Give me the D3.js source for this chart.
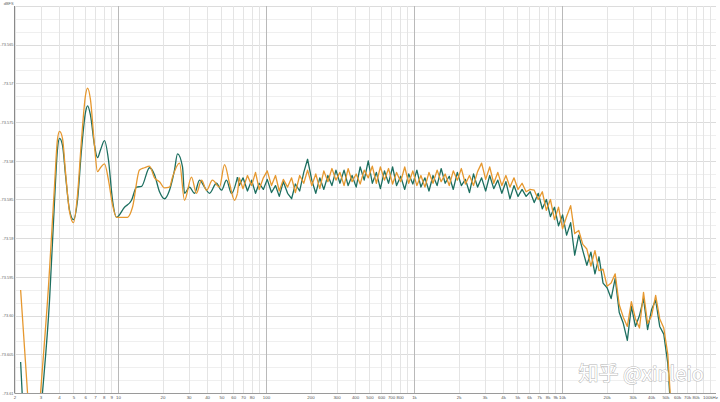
<!DOCTYPE html>
<html><head><meta charset="utf-8">
<script src="https://cdn.jsdelivr.net/npm/d3@7"></script>
<style>body{margin:0;background:#fff}svg{display:block}</style>
</head><body><svg id="c" width="720" height="402"></svg>
<script>
// ---------- data ----------
const xTickValues=[2,3,4,5,6,7,8,9,10,20,30,40,50,60,70,80,100,200,300,400,500,600,700,800,1000,2000,3000,4000,5000,6000,7000,8000,9000,10000,20000,30000,40000,50000,60000,70000,80000,100000];
const xTickLabels=["2","3","4","5","6","7","8","9","10","20","30","40","50","60","70","80","100","200","300","400","500","600","700","800","1k","2k","3k","4k","5k","6k","7k","8k","9k","10k","20k","30k","40k","50k","60k","70k","80k","100kHz"];
const yTickValues=[-73.565,-73.57,-73.575,-73.58,-73.585,-73.59,-73.595,-73.60,-73.605,-73.61];
const yTickLabels=["-73.565","-73.57","-73.575","-73.58","-73.585","-73.59","-73.595","-73.60","-73.605","-73.61"];
const yUnit="dBFS";

// low-frequency part, teal series
const tealLowFreq=[2.2,2.6,3.09,3.45,3.73,3.90,4.03,4.22,4.42,4.71,5.01,5.33,5.67,6.04,6.23,6.52,6.94,7.27,7.62,8.11,8.63,9.19,9.78,11.07,12.35,13.35,14.43,16.34,17.66,19.09,20.63,22.30,24.10,25.26,27.30,28.17,30.44,32.9,35.57,38.44,41.55,46.3,50.07,54.1,58.5,64.2];
const tealLowDb=[-73.6060,-73.6250,-73.6100,-73.5980,-73.5851,-73.5786,-73.5771,-73.5780,-73.5818,-73.5864,-73.5876,-73.5851,-73.5786,-73.5737,-73.5729,-73.5741,-73.5780,-73.5796,-73.5786,-73.5774,-73.5799,-73.5851,-73.5873,-73.5860,-73.5851,-73.5834,-73.5833,-73.5809,-73.5818,-73.5840,-73.5849,-73.5838,-73.5812,-73.5791,-73.5808,-73.5842,-73.5834,-73.5842,-73.5825,-73.5834,-73.5842,-73.5829,-73.5838,-73.5825,-73.5842,-73.5821];
// low-frequency part, orange series
const orangeLowFreq=[2.2,2.45,2.7,3.0,3.40,3.73,3.90,4.03,4.22,4.42,4.71,5.01,5.33,5.67,6.04,6.23,6.52,6.94,7.27,7.62,8.11,8.63,9.19,9.78,11.6,12.54,13.98,15.11,16.34,17.66,19.09,20.63,22.30,23.37,26.06,28.17,31.4,33.9,36.7,39.7,43.5,48.5,52.5,56.7,61.3,64.2];
const orangeLowDb=[-73.5967,-73.6100,-73.6220,-73.6100,-73.5960,-73.5831,-73.5773,-73.5762,-73.5771,-73.5814,-73.5866,-73.5880,-73.5844,-73.5773,-73.5715,-73.5706,-73.5721,-73.5780,-73.5814,-73.5809,-73.5804,-73.5825,-73.5857,-73.5873,-73.5873,-73.5860,-73.5812,-73.5809,-73.5807,-73.5822,-73.5827,-73.5835,-73.5834,-73.5821,-73.5803,-73.5851,-73.5821,-73.5842,-73.5825,-73.5838,-73.5825,-73.5834,-73.5805,-73.5829,-73.5851,-73.5842];

// upper band, shared frequencies
const hiFreq=[66,70,75,80,85,90,96,102,109,116,123,131,140,149,158,169,180,191,204,217,231,246,262,279,297,316,337,359,382,407,433,461,491,523,557,593,632,673,717,763,813,866,922,982,1046,1114,1186,1263,1345,1433,1526,1625,1731,1843,1963,2090,2226,2371,2525,2689,2864,3050,3248,3459,3684,3923,4178,4450,4739,5047,5375,5724,6096,6493,6915,7364,7843,8353,8896,9474,10090,10746,11444,12188,12980,13824,14722,15679,16698,17784,18940,20171,21482,22878,24365,25949,27636,29432,31345,33383,35552,37863,40324,42945,45737,48710,51876,55000];
const tealHiDb=[-73.5832,-73.5822,-73.5839,-73.5825,-73.5842,-73.5829,-73.5837,-73.5824,-73.5841,-73.5832,
-73.5846,-73.5827,-73.5842,-73.5849,-73.5830,-73.5839,-73.5815,-73.5798,-73.5825,-73.5842,
-73.5822,-73.5837,-73.5819,-73.5832,-73.5812,-73.5829,-73.5812,-73.5832,-73.5819,-73.5834,
-73.5808,-73.5825,-73.5800,-73.5829,-73.5815,-73.5836,-73.5813,-73.5829,-73.5808,-73.5832,
-73.5820,-73.5837,-73.5817,-73.5830,-73.5812,-73.5834,-73.5822,-73.5839,-73.5819,-73.5832,
-73.5810,-73.5829,-73.5820,-73.5837,-73.5815,-73.5832,-73.5824,-73.5841,-73.5817,-73.5834,
-73.5822,-73.5839,-73.5819,-73.5836,-73.5825,-73.5842,-73.5827,-73.5849,-73.5832,-73.5846,
-73.5837,-73.5846,-73.5840,
-73.5854,-73.5842,-73.5862,-73.5850,-73.5872,-73.5860,-73.5884,-73.5870,-73.5896,-73.5880,
-73.5922,-73.5896,-73.5916,-73.5935,-73.5918,-73.5946,-73.5924,-73.5958,-73.5964,-73.5978,
-73.5952,-73.5996,-73.6010,-73.6032,-73.5988,-73.6014,-73.6000,-73.5978,-73.6018,-73.5992,
-73.5980,-73.6014,-73.6024,-73.6062,-73.6140];
const orangeHiDb=[-73.5822,-73.5836,-73.5819,-73.5832,-73.5815,-73.5837,-73.5822,-73.5813,-73.5832,-73.5819,
-73.5839,-73.5824,-73.5834,-73.5822,-73.5841,-73.5819,-73.5829,-73.5812,-73.5832,-73.5817,
-73.5836,-73.5813,-73.5827,-73.5810,-73.5825,-73.5815,-73.5832,-73.5810,-73.5827,-73.5817,
-73.5830,-73.5812,-73.5822,-73.5807,-73.5829,-73.5808,-73.5825,-73.5810,-73.5830,-73.5815,
-73.5827,-73.5808,-73.5829,-73.5813,-73.5832,-73.5819,-73.5834,-73.5815,-73.5829,-73.5812,
-73.5827,-73.5817,-73.5832,-73.5813,-73.5825,-73.5810,-73.5830,-73.5819,-73.5832,-73.5814,
-73.5803,-73.5824,-73.5808,-73.5829,-73.5815,-73.5832,-73.5819,-73.5834,-73.5822,-73.5837,
-73.5829,-73.5840,-73.5837,
-73.5838,-73.5850,-73.5840,-73.5864,-73.5850,-73.5876,-73.5860,-73.5888,-73.5872,-73.5858,
-73.5894,-73.5890,-73.5908,-73.5914,-73.5936,-73.5916,-73.5942,-73.5940,-73.5962,-73.5958,
-73.5946,-73.5986,-73.6002,-73.6014,-73.5982,-73.6004,-73.6016,-73.5970,-73.6010,-73.6000,
-73.5974,-73.6004,-73.6016,-73.6050,-73.6130];

// ---------- chart ----------
const L=14.5, R=716, T=6, B=393;
const FONT="Liberation Sans, Arial, sans-serif";
const svg=d3.select("#c");
const x=d3.scaleLog().domain([2,100000]).range([L,710]);
const y=d3.scaleLinear().domain([-73.61,-73.56]).range([B,T]);

const g=svg.append("g");
// horizontal grid: majors every 0.005, minors at thirds
const yMinor=d3.range(0,31).map(i=>-73.61+i*0.05/30);
g.selectAll("line.hm").data(yMinor).enter().append("line")
 .attr("x1",L).attr("x2",R).attr("y1",d=>Math.round(y(d))+0.5).attr("y2",d=>Math.round(y(d))+0.5)
 .attr("stroke",(d,i)=>i%3===0?"#dcdcdc":"#efefef").attr("stroke-width",1);

// vertical grid
const gridF=[];
[1,10,100,1000,10000].forEach(dd=>{for(let m=1;m<=9;m++){const f=m*dd;if(f>=2&&f<=100000)gridF.push(f);}});
gridF.push(100000);
const decade=new Set([10,100,1000,10000]);
g.selectAll("line.v").data(gridF).enter().append("line")
 .attr("x1",d=>Math.round(x(d))+0.5).attr("x2",d=>Math.round(x(d))+0.5).attr("y1",T).attr("y2",B)
 .attr("stroke",d=>decade.has(d)?"#b9b9b9":"#e4e4e4").attr("stroke-width",1);

// frame left and bottom
svg.append("line").attr("x1",L).attr("x2",L).attr("y1",T).attr("y2",B).attr("stroke","#8a8a8a");
svg.append("line").attr("x1",L).attr("x2",R).attr("y1",B+0.5).attr("y2",B+0.5).attr("stroke","#9a9a9a");

// series
svg.append("clipPath").attr("id","clip").append("rect").attr("x",L).attr("y",T).attr("width",R-L).attr("height",B-T);
const smooth=d3.line().x(d=>x(d[0])).y(d=>y(d[1])).curve(d3.curveMonotoneX);
const sharp=d3.line().x(d=>x(d[0])).y(d=>y(d[1])).curve(d3.curveLinear);
const lg=svg.append("g").attr("clip-path","url(#clip)");
function drawSeries(lowF,lowV,hiV,color){
  const low=lowF.map((f,i)=>[f,lowV[i]]);
  const hi=[low[low.length-1]].concat(hiFreq.map((f,i)=>[f,hiV[i]]));
  const p=lg.append("g").attr("fill","none").attr("stroke",color).attr("stroke-width",1.3).attr("stroke-linejoin","round");
  p.append("path").attr("d",smooth(low));
  p.append("path").attr("d",sharp(hi));
}
drawSeries(tealLowFreq,tealLowDb,tealHiDb,"#1d6f60");
drawSeries(orangeLowFreq,orangeLowDb,orangeHiDb,"#e6982f");

// axis labels
const xa=d3.axisBottom(x).tickValues(xTickValues).tickFormat((d,i)=>xTickLabels[i]).tickSize(0).tickPadding(2.5);
const xg=svg.append("g").attr("transform",`translate(0,${B})`).call(xa);
xg.select(".domain").remove();
xg.selectAll("text").attr("font-family",FONT).attr("font-size",4.4).attr("fill","#555");

const ya=d3.axisLeft(y).tickValues(yTickValues).tickFormat((d,i)=>yTickLabels[i]).tickSize(0).tickPadding(1);
const yg=svg.append("g").attr("transform",`translate(${L},0)`).call(ya);
yg.select(".domain").remove();
yg.selectAll("text").attr("font-family",FONT).attr("font-size",3.9).attr("fill","#666");

svg.append("text").attr("x",L-1).attr("y",4.5).attr("text-anchor","end")
 .attr("font-family",FONT).attr("font-size",3.9).attr("fill","#666").text(yUnit);

// watermark
svg.append("text").attr("x",704).attr("y",381).attr("text-anchor","end")
 .attr("font-family","Noto Sans CJK SC, sans-serif").attr("font-size",20)
 .attr("fill","#ffffff").attr("stroke","#b5b5b5").attr("stroke-width",1).attr("paint-order","stroke")
 .text("知乎 @xinleio");
</script></body></html>
